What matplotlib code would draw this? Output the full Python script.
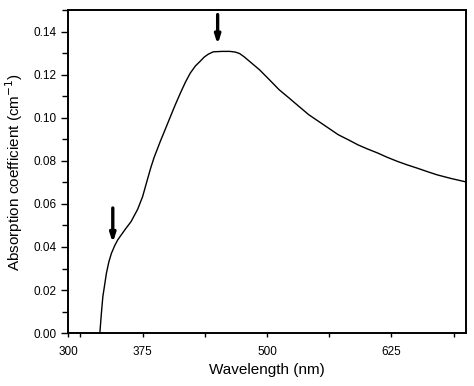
import matplotlib
matplotlib.use("Agg")
import matplotlib.pyplot as plt
from matplotlib.ticker import FormatStrFormatter, MultipleLocator, FixedLocator

plt.rcParams['font.family'] = ['Liberation Sans', 'DejaVu Sans']

wavelength = [332, 333.5, 335, 338.6, 341, 343.6, 347, 350, 353.5, 358, 363.4,
              370, 375, 379, 383.2, 386.5, 389.9, 393, 396.5, 403, 408, 413, 418,
              423, 428, 432.8, 437, 441, 446, 455, 462.6, 468, 472.5, 477, 482.4,
              492.4, 502.3, 512.2, 522.1, 532, 542, 551.9, 561.8, 571.7, 581.6,
              591.5, 601, 611.4, 621, 631.3, 641, 651, 661, 670.9, 685, 700]
absorption = [0.0, 0.0090, 0.0169, 0.0278, 0.0330, 0.0370, 0.0407, 0.0433,
              0.0456, 0.0485, 0.0518, 0.0575, 0.0634, 0.0700, 0.0768, 0.0815,
              0.0856, 0.0893, 0.0932, 0.1006, 0.1062, 0.1115, 0.1165, 0.1208,
              0.1240, 0.1262, 0.1282, 0.1295, 0.1306, 0.1308, 0.1308, 0.1305,
              0.1298, 0.1283, 0.1262, 0.1223, 0.1177, 0.1130, 0.1092, 0.1053,
              0.1014, 0.0983, 0.0952, 0.0921, 0.0898, 0.0874, 0.0855, 0.0836,
              0.0816, 0.0797, 0.0781, 0.0766, 0.0750, 0.0735, 0.0718, 0.0702]

# arrow marks: (x, y_tail, y_tip)
arrows = [(450.4, 0.1479, 0.1340), (345.0, 0.0581, 0.0419)]

x_major = [300, 375, 500, 625]
x_minor = [312.5, 437.5, 562.5, 687.5]

fig = plt.figure(figsize=(4.74, 3.86), dpi=100)
ax = fig.add_axes([0.1435, 0.137, 0.8395, 0.837])

ax.plot(wavelength, absorption, color='black', linewidth=1.0)

for x, yt, yp in arrows:
    ax.annotate('', xy=(x, yp), xytext=(x, yt),
                arrowprops=dict(arrowstyle='-|>,head_length=0.5,head_width=0.16',
                                color='black', lw=2.4, shrinkA=0, shrinkB=0))

ax.set_xlim(300, 700)
ax.set_ylim(0, 0.150)
ax.xaxis.set_major_locator(FixedLocator(x_major))
ax.xaxis.set_minor_locator(FixedLocator(x_minor))
ax.yaxis.set_major_locator(MultipleLocator(0.02))
ax.yaxis.set_minor_locator(MultipleLocator(0.01))
ax.yaxis.set_major_formatter(FormatStrFormatter('%.2f'))

ax.tick_params(axis='y', which='major', direction='out', length=5, width=1.0, labelsize=8.5, pad=3)
ax.tick_params(axis='y', which='minor', direction='out', length=4, width=1.0)
ax.tick_params(axis='x', which='both', direction='out', length=3, width=1.0, labelsize=8.5, pad=6)

for s in ax.spines.values():
    s.set_linewidth(1.4)

ax.set_xlabel('Wavelength (nm)', fontsize=11, labelpad=4)
ax.set_ylabel('Absorption coefficient (cm$^{-1}$)', fontsize=11, labelpad=6)

fig.savefig('out.png', dpi=100)
